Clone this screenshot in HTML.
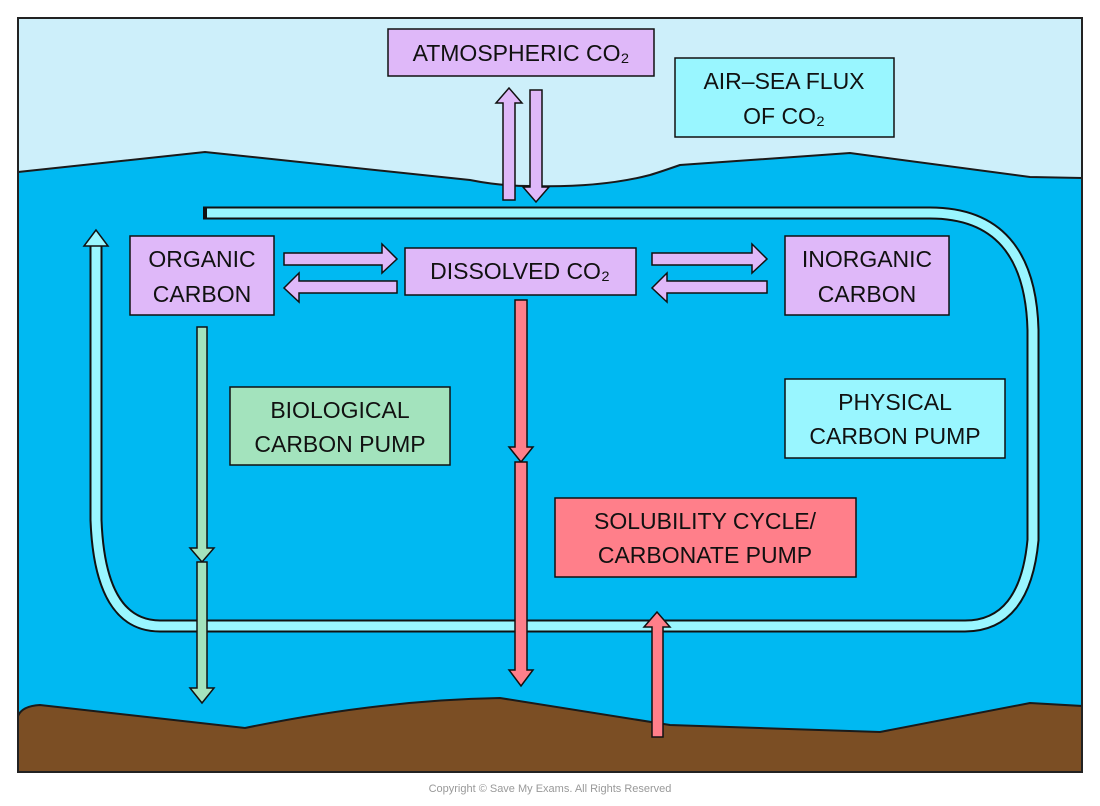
<!DOCTYPE html>
<html><head><style>
body{margin:0;background:#fff;width:1100px;height:801px;overflow:hidden}
svg text{font-family:"Liberation Sans",sans-serif;font-size:23px;fill:#111;text-anchor:middle}
</style></head><body>
<svg width="1100" height="801" viewBox="0 0 1100 801" xmlns="http://www.w3.org/2000/svg">
<rect x="18" y="18" width="1064" height="754" fill="#00b9f2"/>
<path d="M18 18 H1082 V178 L1030 177 L850 153 L680 165 Q660 172 650 175 Q600 188 530 186 Q500 186 470 180 L205 152 L18 172 Z" fill="#cdeffa" stroke="#1a1a1a" stroke-width="2"/>
<path d="M18 772 V716 Q22 706 40 705 L245 728 Q380 700 500 698 L670 725 L880 732 L1030 703 L1082 706 V772 Z" fill="#7b4e24" stroke="#1a1a1a" stroke-width="2"/>
<rect x="18" y="18" width="1064" height="754" fill="none" stroke="#222" stroke-width="2"/>
<!-- loop pipe -->
<g fill="none" stroke-linejoin="round">
<path d="M203 213 H930 Q1030 213 1033 330 V540 Q1025 626 965 626 H160 Q100 626 96 520 V240" stroke="#111" stroke-width="13"/>
<path d="M203 213 H930 Q1030 213 1033 330 V540 Q1025 626 965 626 H160 Q100 626 96 520 V240" stroke="#99f6ff" stroke-width="9"/>
</g>
<rect x="203" y="207" width="4" height="12" fill="#111"/>
<polygon points="96,230 84,246 91,246 101,246 108,246" fill="#99f6ff" stroke="#111" stroke-width="1.5"/>
<g stroke="#111" stroke-width="1.5">
<!-- atmospheric arrows -->
<polygon points="503,200 515,200 515,103 522,103 509,88 496,103 503,103" fill="#dfb8f9"/>
<polygon points="530,90 542,90 542,187 549,187 536,202 523,187 530,187" fill="#dfb8f9"/>
<!-- horizontals left -->
<polygon points="284,253 382,253 382,244 397,259 382,273 382,265 284,265" fill="#dfb8f9"/>
<polygon points="397,281 299,281 299,273 284,288 299,302 299,293 397,293" fill="#dfb8f9"/>
<polygon points="652,253 752,253 752,244 767,259 752,273 752,265 652,265" fill="#dfb8f9"/>
<polygon points="767,281 667,281 667,273 652,288 667,302 667,293 767,293" fill="#dfb8f9"/>
<!-- green -->
<polygon points="197,327 207,327 207,548 214,548 202,562 190,548 197,548" fill="#a3e3bd"/>
<polygon points="197,562 207,562 207,688 214,688 202,703 190,688 197,688" fill="#a3e3bd"/>
<!-- red down -->
<polygon points="515,300 527,300 527,447 533,447 521,462 509,447 515,447" fill="#ff7f8a"/>
<polygon points="515,462 527,462 527,670 533,670 521,686 509,670 515,670" fill="#ff7f8a"/>
<!-- red up -->
<polygon points="652,737 663,737 663,627 670,627 657,612 644,627 652,627" fill="#ff7f8a"/>
<!-- boxes -->
<rect x="388" y="29" width="266" height="47" fill="#dfb8f9"/>
<rect x="675" y="58" width="219" height="79" fill="#99f6ff"/>
<rect x="130" y="236" width="144" height="79" fill="#dfb8f9"/>
<rect x="405" y="248" width="231" height="47" fill="#dfb8f9"/>
<rect x="785" y="236" width="164" height="79" fill="#dfb8f9"/>
<rect x="230" y="387" width="220" height="78" fill="#a3e3bd"/>
<rect x="785" y="379" width="220" height="79" fill="#99f6ff"/>
<rect x="555" y="498" width="301" height="79" fill="#ff7f8a"/>
</g>
<text x="521" y="61">ATMOSPHERIC CO₂</text>
<text x="784" y="89">AIR–SEA FLUX</text>
<text x="784" y="124">OF CO₂</text>
<text x="202" y="267">ORGANIC</text>
<text x="202" y="302">CARBON</text>
<text x="520" y="279">DISSOLVED CO₂</text>
<text x="867" y="267">INORGANIC</text>
<text x="867" y="302">CARBON</text>
<text x="340" y="418">BIOLOGICAL</text>
<text x="340" y="452">CARBON PUMP</text>
<text x="895" y="410">PHYSICAL</text>
<text x="895" y="444">CARBON PUMP</text>
<text x="705" y="529">SOLUBILITY CYCLE/</text>
<text x="705" y="563">CARBONATE PUMP</text>
<text x="550" y="792" style="font-size:11px;fill:#999">Copyright © Save My Exams. All Rights Reserved</text>
</svg>
</body></html>
